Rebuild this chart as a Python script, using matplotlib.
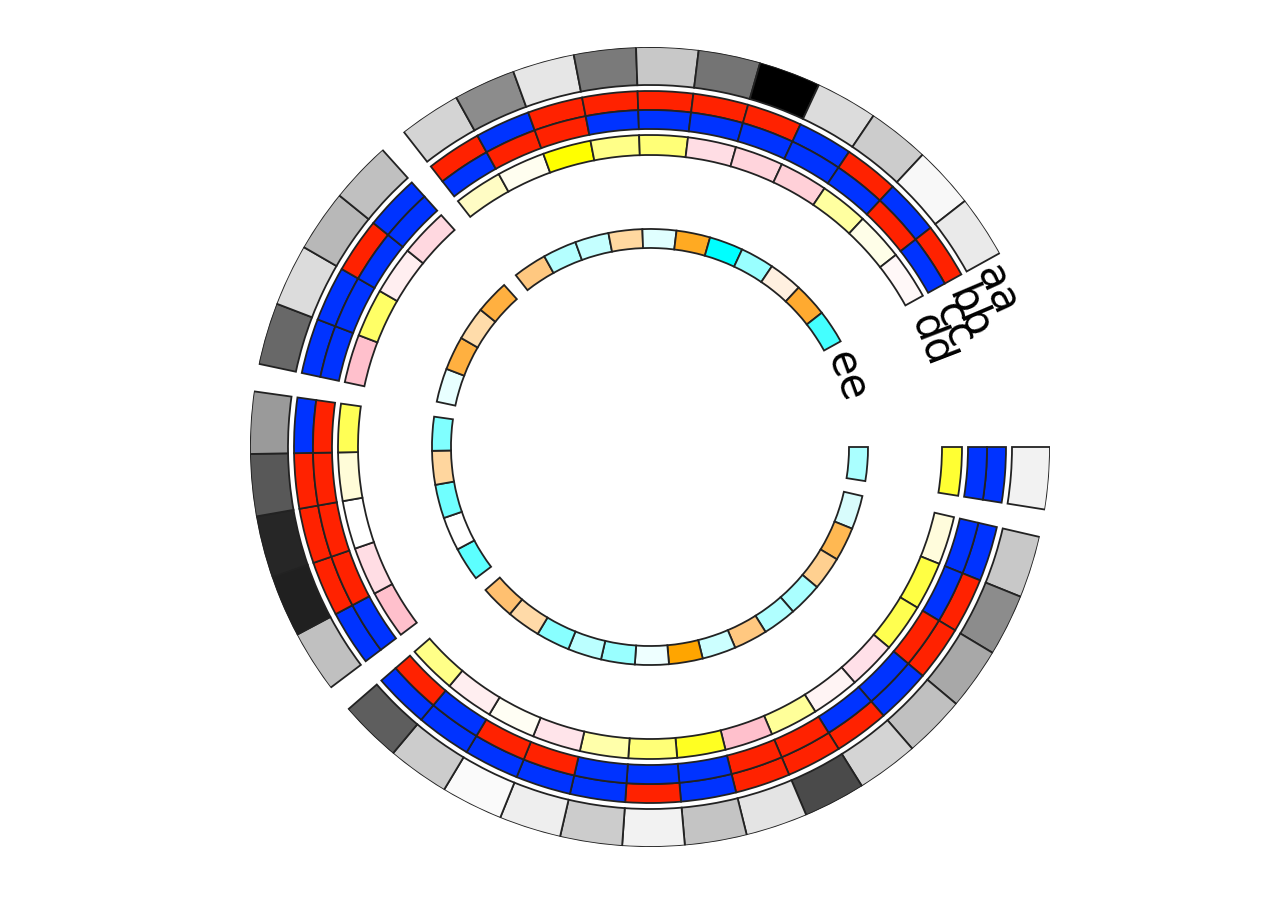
import numpy as np
from matplotlib import pyplot as plt

# sectors: number of cells in each, clockwise from 3 o'clock
sector_sizes = [1, 14, 5, 4, 11]

# track a: grey level (0 = black, 255 = white)
a_grey = [242,
          200, 140, 168, 192, 212, 74, 228, 196, 242, 204, 238, 250, 204, 94,
          192, 32, 38, 88, 154,
          104, 220, 184, 192,
          212, 140, 230, 122, 200, 116, 0, 220, 204, 248, 234]

# tracks b (outer) and c (inner): R = red, B = blue
b_vals = list("B" + "BRRBRRRBRBBBBB" + "BRRRB" + "BBRB" + "RBRRRRRBRBR")
c_vals = list("B" + "BBRBBRRBBBRRBR" + "BRRRR" + "BBBB" + "BRRBBBBBBRB")

d_cols = ['#ffff33',
          '#fffcdc', '#ffff44', '#ffff50', '#ffe0e8', '#fff4f4', '#ffff99', '#ffc0cc',
          '#ffff22', '#ffff77', '#ffffaa', '#ffe4ea', '#fffef4', '#ffeef0', '#ffff88',
          '#ffc0cc', '#ffdde4', '#ffffff', '#fffcd8', '#ffff55',
          '#ffc0cc', '#ffff66', '#ffeef0', '#ffd8e0',
          '#fffcc4', '#fffef0', '#ffff00', '#ffff88', '#ffff77', '#ffdde4',
          '#ffd4dc', '#ffd0d8', '#ffffa0', '#fffee8', '#fff8f8']

e_cols = ['#aaffff',
          '#d8fcfc', '#ffb852', '#ffd090', '#aaffff', '#b0ffff', '#ffc880', '#ccffff',
          '#ffa500', '#eeffff', '#99ffff', '#bbffff', '#88ffff', '#ffdaa8', '#ffc070',
          '#5cffff', '#ffffff', '#70ffff', '#ffd69e', '#80ffff',
          '#e8ffff', '#ffb040', '#ffdcaa', '#ffb040',
          '#ffc880', '#b4ffff', '#c4ffff', '#ffd8a0', '#e0ffff', '#ffaa22',
          '#00ffff', '#99ffff', '#fff0e0', '#ffaa30', '#44ffff']

labels = ['aa', 'bb', 'cc', 'dd', 'ee']

RED, BLUE = '#ff2200', '#0033ff'
cell = 9.0
gap = 4.0

# cell start angles (degrees)
starts = []
pos = 0.0
for n in sector_sizes:
    for i in range(n):
        starts.append(pos + i * cell)
    pos += n * cell + gap
theta = np.deg2rad(np.array(starts) + cell / 2)
width = np.deg2rad(cell)

fig = plt.figure(figsize=(12.78, 9.04), dpi=100)
ax = fig.add_axes([250 / 1278, 56 / 904, 800 / 1278, 800 / 904], projection='polar')
ax.set_theta_zero_location('E')
ax.set_theta_direction(-1)
ax.set_ylim(0, 400)
ax.axis('off')

tracks = [
    ([str(v / 255) for v in a_grey], 362, 400),
    ([RED if v == 'R' else BLUE for v in b_vals], 337, 356),
    ([RED if v == 'R' else BLUE for v in c_vals], 318, 337),
    (d_cols, 292, 312),
    (e_cols, 199, 218),
]
for cols, r0, r1 in tracks:
    ax.bar(theta, r1 - r0, width=width, bottom=r0, color=cols,
           edgecolor='#222222', linewidth=1.3, align='center')

label_ang = [335.5, 337, 338, 339, 340]
for (cols, r0, r1), lab, ang in zip(tracks, labels, label_ang):
    ax.text(np.deg2rad(ang), (r0 + r1) / 2, lab, rotation=-(ang - 270),
            rotation_mode='anchor', ha='center', va='center', fontsize=30)

fig.savefig('out.png', dpi=100)
